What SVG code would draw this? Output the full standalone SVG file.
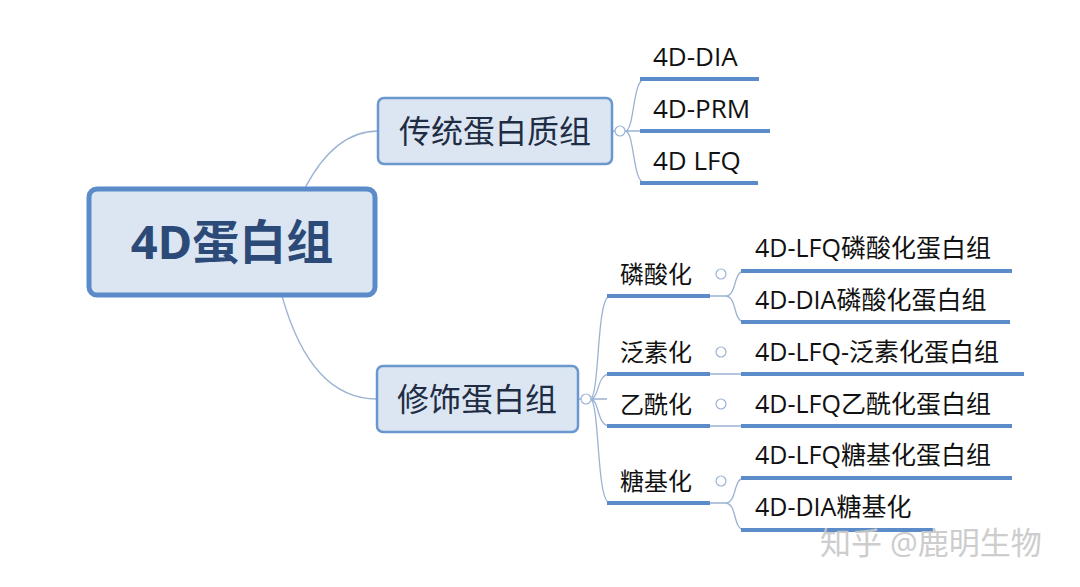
<svg xmlns="http://www.w3.org/2000/svg" width="1080" height="587" viewBox="0 0 1080 587">
<style>
text{font-family:"Open Sans","Noto Sans CJK SC",sans-serif;fill:#111}
.c{fill:none;stroke:#9bb3d3;stroke-width:1.3}
.u{stroke:#5b8bc9;stroke-width:4;fill:none}
.dot{fill:#fff;stroke:#9bb3d3;stroke-width:1.2}
.mid{fill:#dce6f2;stroke:#6b97cf;stroke-width:2.5}
.mt{font-size:32px;fill:#1f2d44}
.l{font-size:25px}
.t{font-size:26px}
.s{font-size:24px}
</style>
<rect width="1080" height="587" fill="#fff"/>
<g id="connectors">
<path class="c" d="M305,188 C325,150 350,131 378,131"/>
<path class="c" d="M282,296 C300,360 330,399 377,399"/>
<path class="c" d="M612,131 H640 M625,131 C635,131 632,79 645,79 M625,131 C635,131 632,183 645,183"/>
<path class="c" d="M578,399 H607 M590,399 C600,399 596,296 610,296 M590,399 C600,399 596,374 610,374 M590,399 C600,399 596,426 610,426 M590,399 C600,399 596,503 610,503"/>
<path class="c" d="M710,296 H725 C738,296 732,271 745,271 M725,296 C738,296 732,322 745,322"/>
<path class="c" d="M710,374 H745 M710,426 H745"/>
<path class="c" d="M710,503 H725 C738,503 732,478 745,478 M725,503 C738,503 732,530 745,530"/>
<circle class="dot" cx="620" cy="131" r="5"/>
<circle class="dot" cx="586" cy="399" r="5"/>
<circle class="dot" cx="721" cy="274" r="5"/>
<circle class="dot" cx="721" cy="352" r="5"/>
<circle class="dot" cx="721" cy="404" r="5"/>
<circle class="dot" cx="721" cy="481" r="5"/>
</g>
<g id="root"><rect x="89" y="189" width="286" height="106" rx="8" fill="#dce6f2" stroke="#5b8bc9" stroke-width="5"/><text x="232" y="259" text-anchor="middle" font-size="47" font-weight="bold" style="fill:#2c4a78">4D蛋白组</text></g>
<g id="n1"><rect class="mid" x="378" y="98" width="234" height="66" rx="6"/><text class="mt" x="495" y="143" text-anchor="middle">传统蛋白质组</text></g>
<g id="n2"><rect class="mid" x="377" y="366" width="201" height="66" rx="6"/><text class="mt" x="477" y="411" text-anchor="middle">修饰蛋白组</text></g>
<g id="t1"><line class="u" x1="640" y1="79" x2="759" y2="79"/><text class="t" x="653" y="66">4D-DIA</text></g>
<g id="t2"><line class="u" x1="640" y1="131" x2="770" y2="131"/><text class="t" x="653" y="118">4D-PRM</text></g>
<g id="t3"><line class="u" x1="640" y1="183" x2="758" y2="183"/><text class="t" x="653" y="170">4D LFQ</text></g>
<g id="m1"><line class="u" x1="607" y1="296" x2="710" y2="296"/><text class="s" x="620" y="283">磷酸化</text></g>
<g id="m2"><line class="u" x1="607" y1="374" x2="710" y2="374"/><text class="s" x="620" y="361">泛素化</text></g>
<g id="m3"><line class="u" x1="607" y1="426" x2="710" y2="426"/><text class="s" x="620" y="413">乙酰化</text></g>
<g id="m4"><line class="u" x1="607" y1="503" x2="710" y2="503"/><text class="s" x="620" y="490">糖基化</text></g>
<g id="l1"><line class="u" x1="741" y1="271" x2="1012" y2="271"/><text class="l" x="755" y="257">4D-LFQ磷酸化蛋白组</text></g>
<g id="l2"><line class="u" x1="741" y1="322" x2="1010" y2="322"/><text class="l" x="755" y="309">4D-DIA磷酸化蛋白组</text></g>
<g id="l3"><line class="u" x1="741" y1="374" x2="1024" y2="374"/><text class="l" x="755" y="361">4D-LFQ-泛素化蛋白组</text></g>
<g id="l4"><line class="u" x1="741" y1="426" x2="1012" y2="426"/><text class="l" x="755" y="413">4D-LFQ乙酰化蛋白组</text></g>
<g id="l5"><line class="u" x1="741" y1="478" x2="1012" y2="478"/><text class="l" x="755" y="464">4D-LFQ糖基化蛋白组</text></g>
<g id="l6"><line class="u" x1="741" y1="530" x2="933" y2="530"/><text class="l" x="755" y="516">4D-DIA糖基化</text></g>
<text x="820" y="554" font-size="31" style="fill:#c8c8c8;opacity:0.9">知乎 @鹿明生物</text>
</svg>
